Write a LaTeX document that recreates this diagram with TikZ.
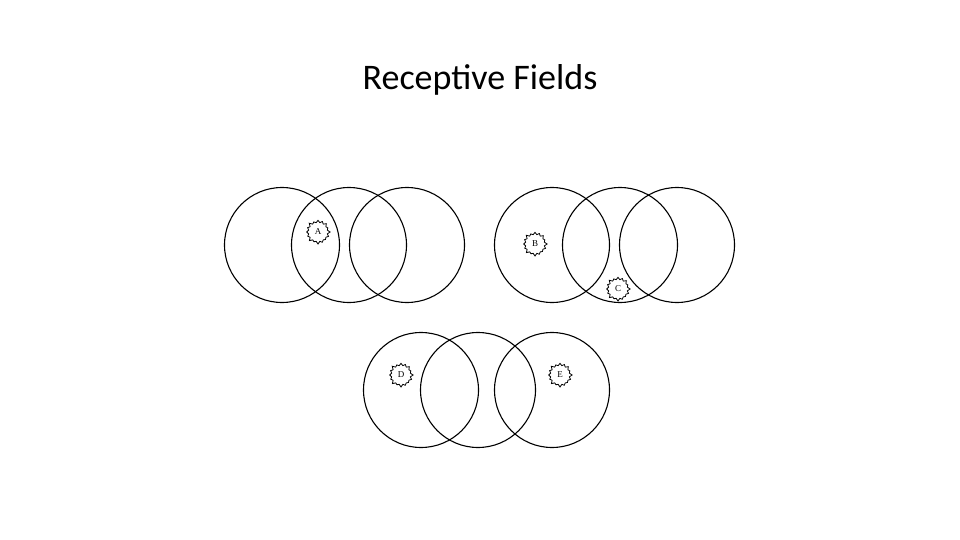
\documentclass[tikz,border=0pt]{standalone}
\usepackage{fontspec}
\setmainfont{Carlito}
\newfontfamily\serifb{Liberation Serif}
\usetikzlibrary{shapes.symbols}
\begin{document}
\begin{tikzpicture}[x=1pt,y=-1pt,
  field/.style={draw,line width=1.1pt,circle,minimum size=115pt,inner sep=0pt},
  cell/.style={starburst,starburst points=16,starburst point height=3pt,draw,fill=white,line width=0.8pt,minimum size=25pt,inner sep=0pt,font=\serifb\fontsize{9}{9}\selectfont}]
\path[use as bounding box] (0,0) rectangle (960,540);
\node (t) at (480,80) {\fontsize{36}{40}\selectfont Receptive Fields};
\node[field] (c1) at (282,245) {};
\node[field] (c2) at (349,245) {};
\node[field] (c3) at (407,245) {};
\node[field] (c4) at (552,245) {};
\node[field] (c5) at (620,245) {};
\node[field] (c6) at (677,245) {};
\node[field] (c7) at (421,390) {};
\node[field] (c8) at (478,390) {};
\node[field] (c9) at (552,390) {};
\node[cell] (A) at (318,232) {A};
\node[cell] (B) at (535,244) {B};
\node[cell] (C) at (618,289) {C};
\node[cell] (D) at (401,375) {D};
\node[cell] (E) at (560,375) {E};
\end{tikzpicture}
\end{document}
